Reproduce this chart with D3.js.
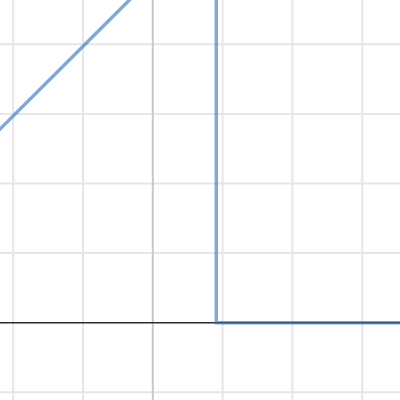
<!DOCTYPE html>
<html>
<head>
<meta charset="utf-8">
<script src="https://cdn.jsdelivr.net/npm/d3@7"></script>
<style>
  body { margin: 0; background: #fff; }
  svg { display: block; }
</style>
</head>
<body>
<div id="chart"></div>
<script>
// grid values
var xTicks = [-2, -1, 0, 1, 2, 3];
var yTicks = [-1, 0, 1, 2, 3, 4];

// the plotted curve: rising line, drop, then flat along the axis
var curveX = [-3, 0, 0.91, 0.91, 4];
var curveY = [1.97, 4.97, 4.97, 0, 0];

var width = 400;
var height = 400;
var unitX = 69.8;
var unitY = 69.6;
var originX = 152.8;
var originY = 322.7;

var svg = d3.select("#chart")
  .append("svg")
  .attr("width", width)
  .attr("height", height);

var xScale = d3.scaleLinear()
  .domain([-originX / unitX, (width - originX) / unitX])
  .range([0, width]);

var yScale = d3.scaleLinear()
  .domain([(originY - height) / unitY, originY / unitY])
  .range([height, 0]);

svg.append("defs").append("clipPath")
  .attr("id", "plot")
  .append("rect")
  .attr("width", width)
  .attr("height", height);

// grid
svg.append("g")
  .selectAll("line")
  .data(xTicks.filter(function(d) { return d !== 0; }))
  .enter()
  .append("line")
  .attr("x1", function(d) { return xScale(d); })
  .attr("x2", function(d) { return xScale(d); })
  .attr("y1", 0)
  .attr("y2", height)
  .attr("stroke", "#e6e6e6")
  .attr("stroke-width", 2);

svg.append("g")
  .selectAll("line")
  .data(yTicks.filter(function(d) { return d !== 0; }))
  .enter()
  .append("line")
  .attr("y1", function(d) { return yScale(d); })
  .attr("y2", function(d) { return yScale(d); })
  .attr("x1", 0)
  .attr("x2", width)
  .attr("stroke", "#e6e6e6")
  .attr("stroke-width", 2);

// axes
svg.append("line")
  .attr("x1", xScale(0))
  .attr("x2", xScale(0))
  .attr("y1", 0)
  .attr("y2", height)
  .attr("stroke", "#c8c8c8")
  .attr("stroke-width", 2);

svg.append("line")
  .attr("x1", 0)
  .attr("x2", width)
  .attr("y1", yScale(0))
  .attr("y2", yScale(0))
  .attr("stroke", "#2a2a2a")
  .attr("stroke-width", 1.6);

var pts = d3.zip(curveX, curveY);

var line = d3.line()
  .x(function(d) { return xScale(d[0]); })
  .y(function(d) { return yScale(d[1]); });

svg.append("path")
  .datum(pts)
  .attr("clip-path", "url(#plot)")
  .attr("d", line)
  .attr("fill", "none")
  .attr("stroke", "#2d70b3")
  .attr("stroke-opacity", 0.6)
  .attr("stroke-width", 3.5)
  .attr("stroke-linejoin", "miter");
</script>
</body>
</html>
